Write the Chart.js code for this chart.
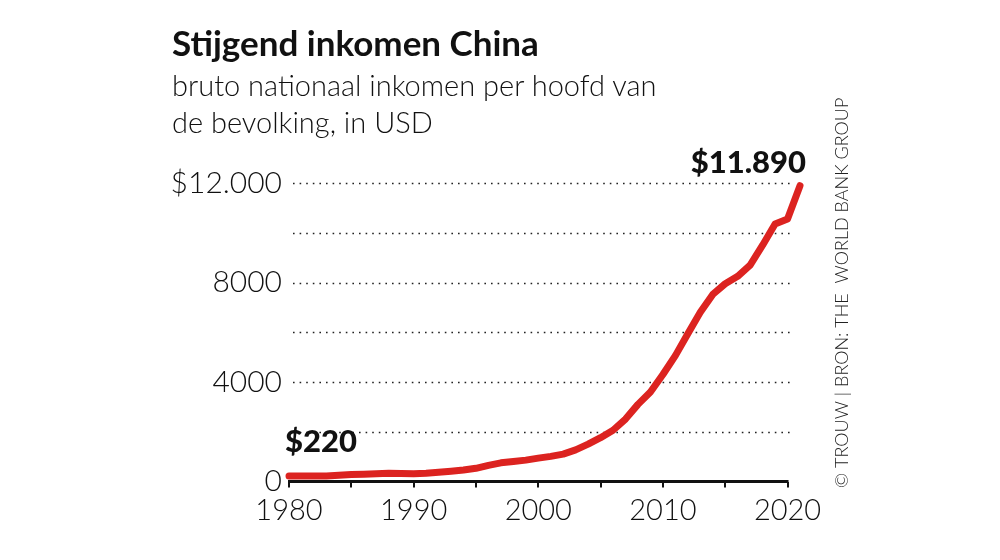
<!DOCTYPE html>
<html>
<head>
<meta charset="utf-8">
<script src="https://cdn.jsdelivr.net/npm/chart.js@4.4.1/dist/chart.umd.min.js"></script>
<style>
  html, body { margin: 0; padding: 0; background: #fff; }
  #wrap { position: relative; width: 1000px; height: 560px; overflow: hidden; }
  canvas { position: absolute; left: 0; top: 0; }
  .title { position: absolute; left: 172px; top: 22px; font-family: Lato, sans-serif; font-weight: 700; font-size: 35px; color: #111; white-space: nowrap; line-height: 40px; }
  .sub { position: absolute; left: 172px; top: 66px; font-family: Lato, sans-serif; font-weight: 300; font-size: 29px; color: #111; white-space: nowrap; line-height: 37px; }
</style>
</head>
<body>
<div id="wrap">
  <canvas id="c" width="1000" height="560"></canvas>
  <div class="title">Stijgend inkomen China</div>
  <div class="sub">bruto nationaal inkomen per hoofd van<br>de bevolking, in USD</div>
</div>
<script>
const years = [1980,1981,1982,1983,1984,1985,1986,1987,1988,1989,1990,1991,1992,1993,1994,1995,1996,1997,1998,1999,2000,2001,2002,2003,2004,2005,2006,2007,2008,2009,2010,2011,2012,2013,2014,2015,2016,2017,2018,2019,2020,2021];
const gniPerCapita = [220,220,220,220,250,280,290,310,330,320,310,330,370,410,460,530,650,750,800,860,940,1010,1100,1270,1500,1760,2060,2510,3100,3600,4300,5060,5940,6800,7520,7950,8250,8700,9500,10350,10550,11890];
const yTickLabels = {0: '0', 4000: '4000', 8000: '8000', 12000: '$12.000'};
const xTickYears = [1980,1985,1990,1995,2000,2005,2010,2015,2020];
const xTickLabels = [1980, 1990, 2000, 2010, 2020];
const axisEndYear = 2020;
const startLabel = '$220';
const endLabel = '$11.890';
const creditText = '\u00A9 TROUW | BRON: THE  WORLD BANK GROUP';

const RED = '#dc2320';
const INK = '#111111';

const points = years.map((y, i) => ({x: y, y: gniPerCapita[i]}));

// dotted gridlines and x-axis line, ending at the last labelled year
const axes = {
  id: 'axes',
  beforeDatasetsDraw(chart) {
    const ctx = chart.ctx;
    const xs = chart.scales.x, ys = chart.scales.y;
    const left = chart.chartArea.left;
    const gridLeft = left + 4;
    const gridRight = xs.getPixelForValue(axisEndYear) + 3;
    ctx.save();
    ctx.strokeStyle = '#222';
    ctx.lineWidth = 1.6;
    ctx.setLineDash([1.6, 5]);
    ys.ticks.forEach(t => {
      if (t.value === 0) return;
      const y = Math.round(ys.getPixelForValue(t.value)) + 0.5;
      ctx.beginPath();
      ctx.moveTo(gridLeft, y);
      ctx.lineTo(gridRight, y);
      ctx.stroke();
    });
    ctx.setLineDash([]);
    ctx.strokeStyle = INK;
    ctx.lineWidth = 3;
    const y0 = ys.getPixelForValue(0);
    ctx.beginPath();
    ctx.moveTo(left - 1, y0);
    ctx.lineTo(xs.getPixelForValue(axisEndYear) + 1, y0);
    ctx.stroke();
    ctx.restore();
  }
};

const annotate = {
  id: 'annotate',
  afterDatasetsDraw(chart) {
    const ctx = chart.ctx;
    const xs = chart.scales.x, ys = chart.scales.y;
    ctx.save();
    ctx.fillStyle = INK;
    ctx.font = '900 31px Lato, sans-serif';
    ctx.textBaseline = 'alphabetic';
    const x0 = xs.getPixelForValue(years[0]), y0 = ys.getPixelForValue(gniPerCapita[0]);
    ctx.textAlign = 'left';
    ctx.fillText(startLabel, x0 - 4, y0 - 24);
    const n = years.length - 1;
    const x1 = xs.getPixelForValue(years[n]), y1 = ys.getPixelForValue(gniPerCapita[n]);
    ctx.textAlign = 'right';
    ctx.fillText(endLabel, x1 + 6, y1 - 13);
    // credit
    ctx.translate(842, 488);
    ctx.rotate(-Math.PI / 2);
    ctx.textAlign = 'left';
    ctx.textBaseline = 'middle';
    ctx.font = '300 18px Lato, sans-serif';
    ctx.fillStyle = '#222';
    ctx.fillText(creditText, 0, 0);
    ctx.restore();
  }
};

new Chart(document.getElementById('c'), {
  type: 'line',
  data: {
    datasets: [{
      data: points,
      borderColor: RED,
      borderWidth: 7,
      borderCapStyle: 'round',
      borderJoinStyle: 'round',
      pointRadius: 0,
      tension: 0,
      clip: false,
      fill: false
    }]
  },
  options: {
    responsive: false,
    devicePixelRatio: 1,
    animation: false,
    events: [],
    layout: { padding: { left: 0, right: 200, top: 183, bottom: 0 } },
    plugins: { legend: { display: false }, tooltip: { enabled: false } },
    scales: {
      x: {
        type: 'linear',
        min: 1980,
        max: 2021,
        afterFit(s) { s.height = 78.5; },
        afterBuildTicks(s) { s.ticks = xTickYears.map(v => ({value: v})); },
        ticks: {
          autoSkip: false,
          maxRotation: 0,
          padding: 6,
          color: INK,
          font: { family: 'Lato, sans-serif', size: 29, weight: '300' },
          callback: (v) => xTickLabels.includes(v) ? String(v) : ''
        },
        grid: { display: true, drawOnChartArea: false, drawTicks: true, tickLength: 6, color: INK, lineWidth: 2 },
        border: { display: false }
      },
      y: {
        type: 'linear',
        min: 0,
        max: 12000,
        afterFit(s) { s.width = 289; },
        ticks: {
          stepSize: 2000,
          padding: 7,
          color: INK,
          font: { family: 'Lato, sans-serif', size: 30, weight: '300' },
          callback: (v) => (v in yTickLabels) ? yTickLabels[v] : ''
        },
        grid: { display: false, drawTicks: false },
        border: { display: false }
      }
    }
  },
  plugins: [axes, annotate]
});
</script>
</body>
</html>
